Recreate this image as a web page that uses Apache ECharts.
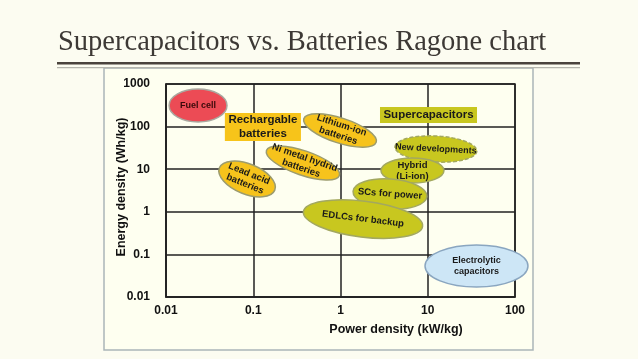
<!DOCTYPE html>
<html><head><meta charset="utf-8">
<script src="https://cdn.jsdelivr.net/npm/echarts@6/dist/echarts.min.js"></script>
<style>html,body{margin:0;padding:0;background:#fcfcf1;}#c{width:638px;height:359px;}</style>
</head><body><div id="c"></div>
<script>
// ---- data ----
const xTicks = [0.01, 0.1, 1, 10, 100];          // Power density (kW/kg)
const yTicks = [0.01, 0.1, 1, 10, 100, 1000];    // Energy density (Wh/kg)
const labels = ['Fuel cell', 'Rechargable\nbatteries', 'Lead acid\nbatteries', 'Ni metal hydrid\nbatteries',
  'Lithium-ion\nbatteries', 'Supercapacitors', 'New developments', 'Hybrid\n(Li-ion)', 'SCs for power',
  'EDLCs for backup', 'Electrolytic\ncapacitors'];
const kinds = ['fuel', 'batteryLabel', 'battery', 'battery', 'battery', 'superLabel', 'superNew', 'super', 'super', 'super', 'electro'];
// centre of each region
const powerCenter  = [0.0233, 0.129, 0.085, 0.371, 0.986, 10.2, 12.4, 6.68, 3.69, 1.81, 36.2];
const energyCenter = [313, 98, 5.9, 14, 81, 187, 29.8, 9.3, 2.62, 0.677, 0.0534];
// half extent of each region, in decades
const powerHalfDecades  = [0.332, 0.436, 0.342, 0.442, 0.436, 0.556, 0.47, 0.361, 0.424, 0.688, 0.59];
const energyHalfDecades = [0.387, 0.329, 0.355, 0.287, 0.293, 0.188, 0.305, 0.293, 0.352, 0.423, 0.493];
// tilt (degrees, clockwise)
const tilt = [0, 0, 22, 19, 18, 0, 3, 0, 4, 7, 0];

const styles = {
  fuel:        {fill: '#ec4b55', stroke: '#a9a9a0', font: 'bold 9px Arial', color: '#3a0a0a'},
  batteryLabel:{fill: '#f7c41a', stroke: null, font: 'bold 11.5px Arial', color: '#1a1a1a', rect: true},
  battery:     {fill: '#f6c31c', stroke: '#9c9c6e', font: 'bold 9.5px Arial', color: '#1a1a1a'},
  superLabel:  {fill: '#c8c71f', stroke: null, font: 'bold 11.5px Arial', color: '#1a1a1a', rect: true},
  superNew:    {fill: '#c8c71f', stroke: '#a3a860', font: 'bold 9px Arial', color: '#1a1a1a', dash: [4, 2]},
  super:       {fill: '#c8c71f', stroke: '#a3a860', font: 'bold 9.5px Arial', color: '#1a1a1a'},
  electro:     {fill: '#cde6f6', stroke: '#8aa6c0', font: 'bold 9px Arial', color: '#1a1a1a'}
};

const data = labels.map((l, i) => [powerCenter[i], energyCenter[i], powerHalfDecades[i], energyHalfDecades[i], tilt[i], i]);

const chart = echarts.init(document.getElementById('c'));
function fmt(v) { return v >= 1 ? String(Math.round(v)) : String(+v.toPrecision(1)); }
chart.setOption({
  backgroundColor: '#fcfcf1',
  animation: false,
  graphic: [
    {type: 'text', left: 58, top: 28, style: {text: 'Supercapacitors vs. Batteries Ragone chart', font: '28.5px "Liberation Serif"', fill: '#3d3935'}},
    {type: 'rect', shape: {x: 57, y: 62, width: 523, height: 2.5}, style: {fill: '#4a433d'}},
    {type: 'rect', shape: {x: 57, y: 67, width: 523, height: 1.2}, style: {fill: '#b5b5ad'}},
    {type: 'rect', z: -1, shape: {x: 104, y: 68, width: 429, height: 282}, style: {fill: '#fefff0', stroke: '#aab5b8', lineWidth: 1.5}}
  ],
  grid: {left: 166, right: 123, top: 84, bottom: 62, show: true, borderColor: '#222', borderWidth: 1.5},
  xAxis: {
    type: 'log', logBase: 10, min: xTicks[0], max: xTicks[xTicks.length - 1],
    name: 'Power density (kW/kg)', nameLocation: 'middle', nameGap: 26, nameMoveOverlap: false,
    nameTextStyle: {fontWeight: 'bold', fontSize: 12.5, fontFamily: 'Arial', color: '#111', padding: [0, 0, 0, 111]},
    axisLine: {lineStyle: {color: '#222', width: 1.5}}, axisTick: {show: false},
    splitLine: {show: true, lineStyle: {color: '#222', width: 1.5}},
    axisLabel: {formatter: fmt, fontWeight: 'bold', fontSize: 12, fontFamily: 'Arial', color: '#111', margin: 8}
  },
  yAxis: {
    type: 'log', logBase: 10, min: yTicks[0], max: yTicks[yTicks.length - 1],
    name: 'Energy density (Wh/kg)', nameLocation: 'middle', nameGap: 38, nameMoveOverlap: false,
    nameTextStyle: {fontWeight: 'bold', fontSize: 12.5, fontFamily: 'Arial', color: '#111', padding: [0, 0, 0, 7]},
    axisLine: {lineStyle: {color: '#222', width: 1.5}}, axisTick: {show: false},
    splitLine: {show: true, lineStyle: {color: '#222', width: 1.5}},
    axisLabel: {formatter: fmt, fontWeight: 'bold', fontSize: 12, fontFamily: 'Arial', color: '#111', margin: 16}
  },
  series: [{
    type: 'custom',
    data: data,
    clip: false,
    renderItem: function (params, api) {
      const cx = api.value(0), cy = api.value(1), hw = api.value(2), hh = api.value(3), t = api.value(4), idx = api.value(5);
      const c = api.coord([cx, cy]);
      const r = api.coord([cx * Math.pow(10, hw), cy * Math.pow(10, hh)]);
      const rx = r[0] - c[0], ry = c[1] - r[1];
      const s = styles[kinds[idx]];
      const shape = s.rect
        ? {type: 'rect', shape: {x: -rx, y: -ry, width: 2 * rx, height: 2 * ry}, style: {fill: s.fill}}
        : {type: 'ellipse', shape: {cx: 0, cy: 0, rx: rx, ry: ry},
           style: {fill: s.fill, stroke: s.stroke, lineWidth: 1.5, lineDash: s.dash || null}};
      return {
        type: 'group', x: c[0], y: c[1], rotation: -t * Math.PI / 180,
        children: [shape, {type: 'text', style: {text: labels[idx], x: 0, y: 0, align: 'center', verticalAlign: 'middle', font: s.font, fill: s.color, lineHeight: s.rect ? 14 : 11}}]
      };
    }
  }]
});
</script></body></html>
